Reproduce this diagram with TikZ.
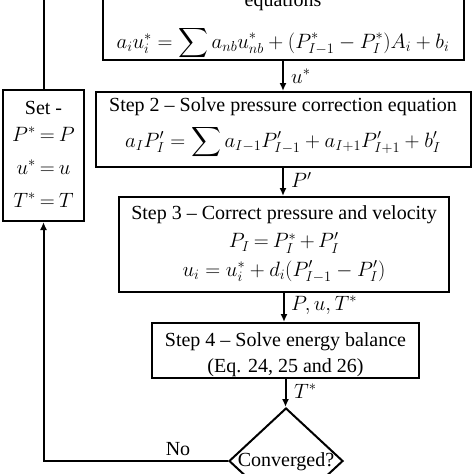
\documentclass[tikz,border=0pt]{standalone}
\usepackage{amsmath}
\usepackage{fontspec}
\setmainfont{Liberation Serif}
\usetikzlibrary{shapes.geometric,arrows.meta}
\newcommand{\tightm}{\thickmuskip=3.5mu\medmuskip=3mu}
\begin{document}
\begin{tikzpicture}[x=1pt,y=-1pt,
  box/.style={draw,line width=2pt,inner sep=0pt},
  txt/.style={inner sep=0pt,font=\fontsize{20}{24}\selectfont},
  eq/.style={inner sep=0pt,font=\fontsize{21}{25}\selectfont},
  lab/.style={inner sep=0pt,anchor=west,font=\fontsize{20}{24}\selectfont},
  arr/.style={line width=2pt,-{Latex[length=8pt,width=7pt]}},
  ln/.style={line width=2pt}]
\useasboundingbox (0,0) rectangle (474,474);
\clip (0,0) rectangle (474,474);
% boxes
\node[box,minimum width=361pt,minimum height=110pt] (s1) at (283,5) {};
\node[box,minimum width=81pt,minimum height=131pt] (set) at (43.5,155.5) {};
\node[box,minimum width=375pt,minimum height=75pt] (s2) at (283,129.5) {};
\node[box,minimum width=330pt,minimum height=95pt] (s3) at (284,244.5) {};
\node[box,minimum width=267pt,minimum height=55pt] (s4) at (285.5,350.5) {};
\node[box,diamond,minimum width=114pt,minimum height=106pt] (dia) at (286,461) {};
% texts
\node[txt] (t1a) at (283,2) {equations};
\node[eq] (t1b) at (283,43) {$a_iu_i^* = \displaystyle\sum a_{nb}u_{nb}^* + (P_{I-1}^* - P_I^*)A_i + b_i$};
\node[txt] (ta) at (43.5,108) {Set -};
\node[txt] (tb) at (43.5,134) {$\tightm P^* = P$};
\node[txt] (tc) at (43.5,167) {$\tightm u^* = u$};
\node[txt] (td) at (43.5,200) {$\tightm T^* = T$};
\node[txt] (t2a) at (283,107) {Step 2 – Solve pressure correction equation};
\node[eq] (t2b) at (283,145) {$a_IP_I' = \mathop{\smash[t]{\displaystyle\sum}} a_{I-1}P_{I-1}' + a_{I+1}P_{I+1}' + b_I'$};
\node[txt] (t3a) at (284,215) {Step 3 – Correct pressure and velocity};
\node[txt] (t3b) at (284,243) {$\tightm P_I = P_I^* + P_I'$};
\node[eq] (t3c) at (284,272) {$u_i = u_i^* + d_i(P_{I-1}' - P_I')$};
\node[txt] (t4a) at (285.5,342) {Step 4 – Solve energy balance};
\node[txt] (t4b) at (285.5,368) {(Eq. 24, 25 and 26)};
\node[txt] (t5) at (286,462) {Converged?};
\node[txt] (no) at (178,449) {No};
% arrows
\draw[arr] (s1.south) -- (s1.south |- s2.north);
\node[lab] (l1) at (291,76) {$u^*$};
\draw[arr] (s2.south) -- (s2.south |- s3.north);
\node[lab] (l2) at (291,180) {$P'$};
\draw[arr] (s3.south) -- (s3.south |- s4.north);
\node[lab] (l3) at (291,305) {$P,u,T^*$};
\draw[arr] (s4.south) -- (s4.south |- dia.north);
\node[lab] (l4) at (294,391) {$T^*$};
\draw[arr] (dia.west) -| (set.south);
\coordinate (topend) at (43.5,-10);
\draw[ln] (set.north) -- (topend);
\end{tikzpicture}
\end{document}
